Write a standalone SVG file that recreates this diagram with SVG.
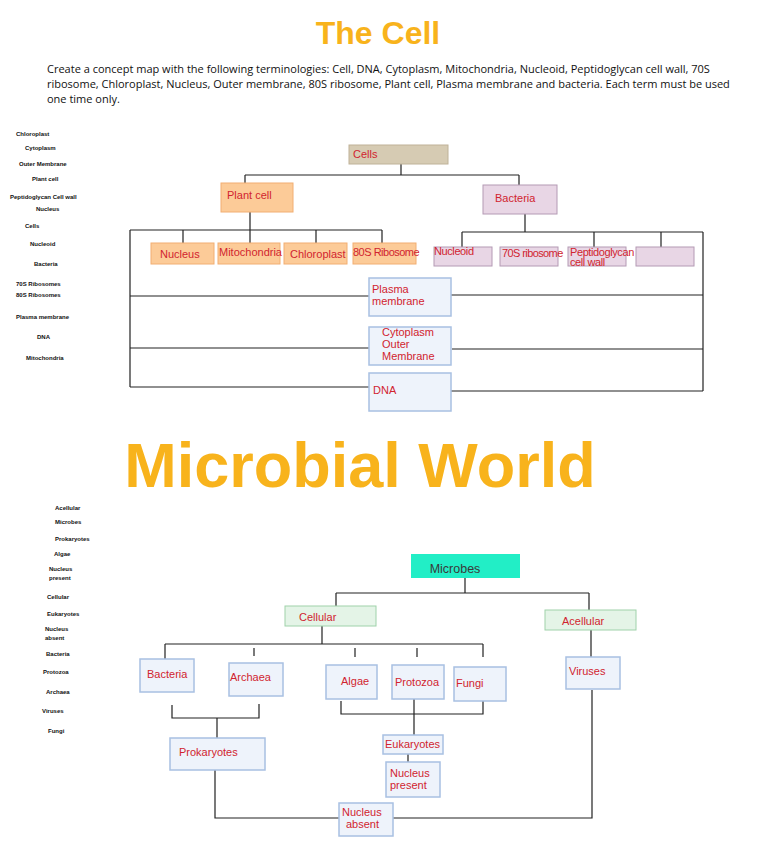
<svg xmlns="http://www.w3.org/2000/svg" width="768" height="866" viewBox="0 0 768 866">
<style>
text{font-family:"Liberation Sans",Arial,sans-serif}
.t{fill:#F8B31C;font-weight:bold}
.p{font-family:"Open Sans","Liberation Sans",sans-serif;font-size:11px;fill:#111}
.l{font-size:6px;font-weight:bold;fill:#111}
.n{font-size:11px;fill:#D1242F}
.o{fill:#FCCB98;stroke:#F2AE72}
.pu{fill:#E8D6E5;stroke:#B49AB4}
.b{fill:#EEF3FB;stroke:#A8C0E2;stroke-width:1.5}
.g{fill:#E4F4E7;stroke:#9FD2AA}
.c path{fill:none;stroke:#222;stroke-width:1.2}
</style>
<rect width="768" height="866" fill="#fff"/>
<text class="t" x="378" y="44" font-size="32" text-anchor="middle">The Cell</text>
<text class="p" x="47" y="73">Create a concept map with the following terminologies:  Cell, DNA, Cytoplasm, Mitochondria, Nucleoid, Peptidoglycan cell wall, 70S</text>
<text class="p" x="47" y="88">ribosome, Chloroplast, Nucleus, Outer membrane, 80S ribosome, Plant cell, Plasma membrane and bacteria.  Each term must be used</text>
<text class="p" x="47" y="103">one time only.</text>
<g id="list1">
<text class="l" x="16" y="136">Chloroplast</text>
<text class="l" x="25" y="150">Cytoplasm</text>
<text class="l" x="19" y="166">Outer Membrane</text>
<text class="l" x="32" y="181">Plant cell</text>
<text class="l" x="10" y="199">Peptidoglycan Cell wall</text>
<text class="l" x="36" y="211">Nucleus</text>
<text class="l" x="25" y="228">Cells</text>
<text class="l" x="30" y="246">Nucleoid</text>
<text class="l" x="34" y="266">Bacteria</text>
<text class="l" x="16" y="286">70S Ribosomes</text>
<text class="l" x="16" y="297">80S Ribosomes</text>
<text class="l" x="16" y="319">Plasma membrane</text>
<text class="l" x="37" y="339">DNA</text>
<text class="l" x="26" y="360">Mitochondria</text>
</g>
<g class="c" id="connectors1">
<path d="M401 164V175M245 175H519M245 175V183M519 175V185"/>
<path d="M250 212V230M130 230H382M183 230V243M250 230V243M316 230V243M382 230V243M130 230V387M130 296H369M130 348H369M130 387H369"/>
<path d="M525 214V232M462 232H703M462 232V247M594 232V247M661 232V247M703 232V391M450 295H703M452 349H703M450 391H703"/>
</g>
<g id="cells"><rect x="349" y="145" width="99" height="19" fill="#D6CBB3" stroke="#BFB298"/><text class="n" x="353" y="158">Cells</text></g>
<g id="plantcell"><rect class="o" x="221" y="183" width="72" height="29"/><text class="n" x="227" y="199">Plant cell</text></g>
<g id="bacteria1"><rect class="pu" x="483" y="185" width="74" height="29"/><text class="n" x="495" y="202">Bacteria</text></g>
<g id="nucleus"><rect class="o" x="151" y="243" width="63" height="21"/><text class="n" x="160" y="258">Nucleus</text></g>
<g id="mito"><rect class="o" x="218" y="243" width="62" height="21"/><text class="n" x="219" y="256">Mitochondria</text></g>
<g id="chloro"><rect class="o" x="284" y="243" width="63" height="21"/><text class="n" x="290" y="258">Chloroplast</text></g>
<g id="r80"><rect class="o" x="353" y="243" width="63" height="21"/><text class="n" x="353" y="256" font-size="9.6" letter-spacing="-0.5">80S Ribosome</text></g>
<g id="nucleoid"><rect class="pu" x="434" y="247" width="58" height="19"/><text class="n" x="434" y="255" font-size="10.5" letter-spacing="-0.4">Nucleoid</text></g>
<g id="r70"><rect class="pu" x="500" y="247" width="58" height="19"/><text class="n" x="502" y="257" font-size="10" letter-spacing="-0.6">70S ribosome</text></g>
<g id="pepti"><rect class="pu" x="568" y="247" width="58" height="19"/><text class="n" x="570" y="256" font-size="10" letter-spacing="-0.4">Peptidoglycan</text><text class="n" x="570" y="266" font-size="10" letter-spacing="-0.4">cell wall</text></g>
<g id="empty"><rect class="pu" x="636" y="247" width="58" height="19"/></g>
<g id="plasma"><rect class="b" x="369" y="278" width="82" height="38"/><text class="n" x="372" y="293">Plasma</text><text class="n" x="372" y="305">membrane</text></g>
<g id="cyto"><rect class="b" x="369" y="327" width="82" height="38"/><text class="n" x="382" y="336">Cytoplasm</text><text class="n" x="382" y="348">Outer</text><text class="n" x="382" y="360">Membrane</text></g>
<g id="dna"><rect class="b" x="369" y="373" width="82" height="38"/><text class="n" x="373" y="394">DNA</text></g>
<text class="t" x="360" y="487" font-size="63" text-anchor="middle">Microbial World</text>
<g id="list2">
<text class="l" x="55" y="510">Acellular</text>
<text class="l" x="55" y="524">Microbes</text>
<text class="l" x="55" y="541">Prokaryotes</text>
<text class="l" x="54" y="556">Algae</text>
<text class="l" x="49" y="571">Nucleus</text>
<text class="l" x="49" y="580">present</text>
<text class="l" x="47" y="599">Cellular</text>
<text class="l" x="47" y="616">Eukaryotes</text>
<text class="l" x="45" y="631">Nucleus</text>
<text class="l" x="45" y="640">absent</text>
<text class="l" x="46" y="656">Bacteria</text>
<text class="l" x="43" y="674">Protozoa</text>
<text class="l" x="46" y="694">Archaea</text>
<text class="l" x="42" y="713">Viruses</text>
<text class="l" x="48" y="733">Fungi</text>
</g>
<g class="c" id="connectors2">
<path d="M465 578V593M336 593H589M336 593V606M589 593V610"/>
<path d="M322 626V644M165 644H483M165 644V660M254 648V656M355 648V657M417 648V657M483 644V657"/>
<path d="M172 705V718H259V704M217 718V738M215 765V818H340"/>
<path d="M341 701V714H483V701M414 699V735M408 754V762M393 818H592V690M591 630V657"/>
</g>
<g id="microbes"><rect x="411" y="554" width="109" height="24" fill="#22EEC6"/><text x="455" y="573" font-size="12.5" fill="#3a3a3a" text-anchor="middle">Microbes</text></g>
<g id="cellular"><rect class="g" x="285" y="606" width="91" height="20"/><text class="n" x="299" y="621" font-size="12.5">Cellular</text></g>
<g id="acellular"><rect class="g" x="545" y="610" width="91" height="20"/><text class="n" x="562" y="625" font-size="12.5">Acellular</text></g>
<g id="bacteria2"><rect class="b" x="140" y="659" width="54" height="33"/><text class="n" x="147" y="678">Bacteria</text></g>
<g id="archaea"><rect class="b" x="229" y="663" width="54" height="33"/><text class="n" x="230" y="681">Archaea</text></g>
<g id="algae"><rect class="b" x="326" y="665" width="51" height="34"/><text class="n" x="341" y="685">Algae</text></g>
<g id="protozoa"><rect class="b" x="392" y="665" width="52" height="34"/><text class="n" x="395" y="686">Protozoa</text></g>
<g id="fungi"><rect class="b" x="454" y="667" width="52" height="34"/><text class="n" x="456" y="687">Fungi</text></g>
<g id="viruses"><rect class="b" x="566" y="657" width="54" height="32"/><text class="n" x="569" y="675">Viruses</text></g>
<g id="prokaryotes"><rect class="b" x="170" y="738" width="95" height="32"/><text class="n" x="179" y="756">Prokaryotes</text></g>
<g id="eukaryotes"><rect class="b" x="383" y="735" width="60" height="19"/><text class="n" x="385" y="748">Eukaryotes</text></g>
<g id="npresent"><rect class="b" x="386" y="762" width="54" height="35"/><text class="n" x="390" y="777">Nucleus</text><text class="n" x="390" y="789">present</text></g>
<g id="nabsent"><rect class="b" x="339" y="803" width="54" height="33"/><text class="n" x="342" y="816">Nucleus</text><text class="n" x="346" y="828">absent</text></g>
</svg>
